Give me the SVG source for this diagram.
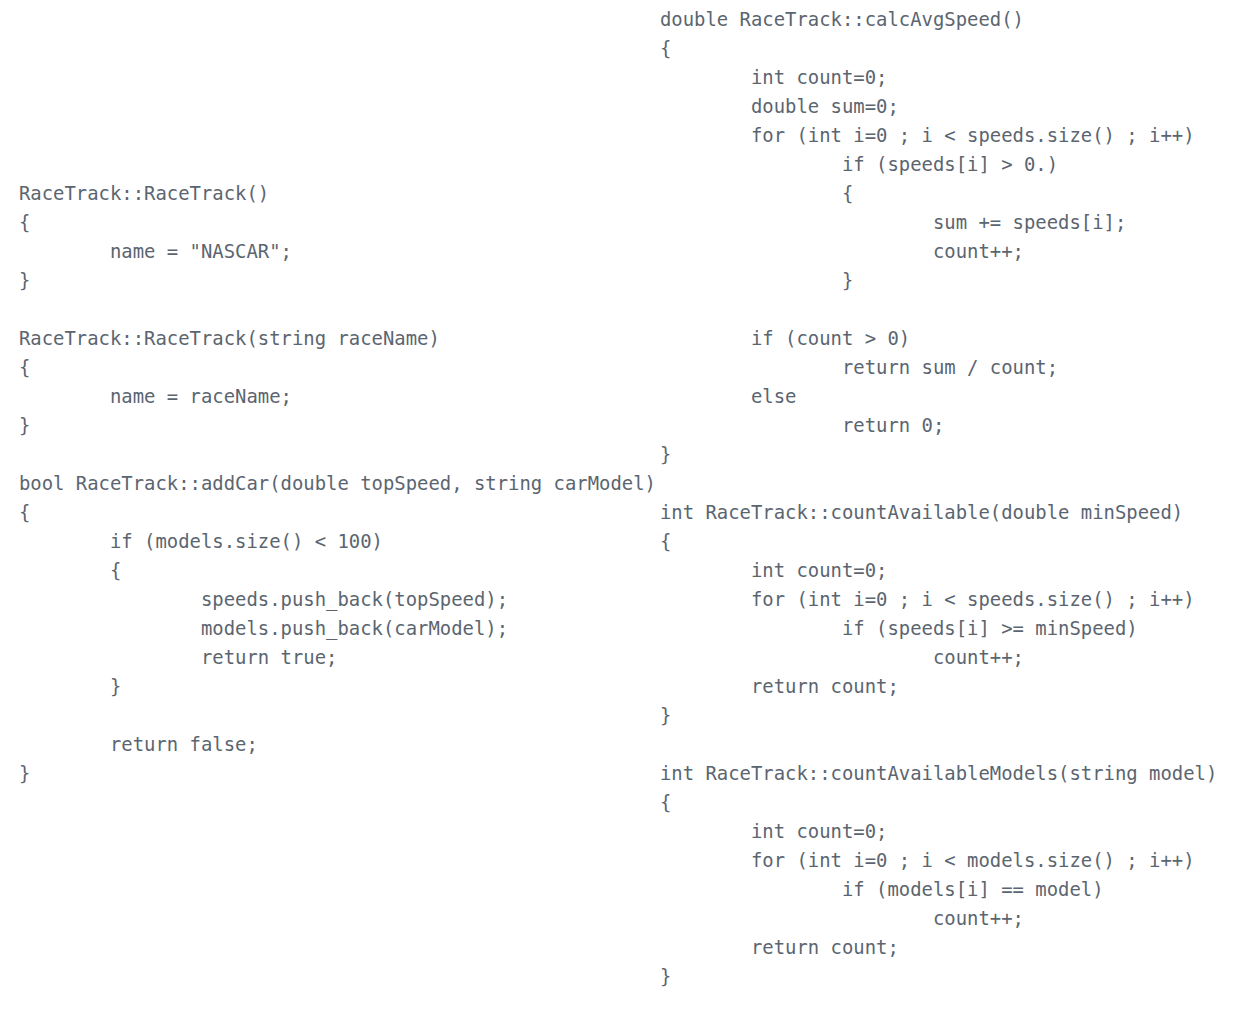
<svg xmlns="http://www.w3.org/2000/svg" width="1241" height="1009" viewBox="0 0 1241 1009">
<style>text{font-family:"DejaVu Sans Mono","Liberation Mono",monospace;font-size:18.9px;fill:#5b6570;white-space:pre}</style>
<rect width="1241" height="1009" fill="#fff"/>
<g id="left">
<text x="19" y="200">RaceTrack::RaceTrack()</text>
<text x="19" y="229">{</text>
<text x="110" y="258">name = "NASCAR";</text>
<text x="19" y="287">}</text>
<text x="19" y="345">RaceTrack::RaceTrack(string raceName)</text>
<text x="19" y="374">{</text>
<text x="110" y="403">name = raceName;</text>
<text x="19" y="432">}</text>
<text x="19" y="490">bool RaceTrack::addCar(double topSpeed, string carModel)</text>
<text x="19" y="519">{</text>
<text x="110" y="548">if (models.size() &lt; 100)</text>
<text x="110" y="577">{</text>
<text x="201" y="606">speeds.push_back(topSpeed);</text>
<text x="201" y="635">models.push_back(carModel);</text>
<text x="201" y="664">return true;</text>
<text x="110" y="693">}</text>
<text x="110" y="751">return false;</text>
<text x="19" y="780">}</text>
</g>
<g id="right">
<text x="660" y="26">double RaceTrack::calcAvgSpeed()</text>
<text x="660" y="55">{</text>
<text x="751" y="84">int count=0;</text>
<text x="751" y="113">double sum=0;</text>
<text x="751" y="142">for (int i=0 ; i &lt; speeds.size() ; i++)</text>
<text x="842" y="171">if (speeds[i] &gt; 0.)</text>
<text x="842" y="200">{</text>
<text x="933" y="229">sum += speeds[i];</text>
<text x="933" y="258">count++;</text>
<text x="842" y="287">}</text>
<text x="751" y="345">if (count &gt; 0)</text>
<text x="842" y="374">return sum / count;</text>
<text x="751" y="403">else</text>
<text x="842" y="432">return 0;</text>
<text x="660" y="461">}</text>
<text x="660" y="519">int RaceTrack::countAvailable(double minSpeed)</text>
<text x="660" y="548">{</text>
<text x="751" y="577">int count=0;</text>
<text x="751" y="606">for (int i=0 ; i &lt; speeds.size() ; i++)</text>
<text x="842" y="635">if (speeds[i] &gt;= minSpeed)</text>
<text x="933" y="664">count++;</text>
<text x="751" y="693">return count;</text>
<text x="660" y="722">}</text>
<text x="660" y="780">int RaceTrack::countAvailableModels(string model)</text>
<text x="660" y="809">{</text>
<text x="751" y="838">int count=0;</text>
<text x="751" y="867">for (int i=0 ; i &lt; models.size() ; i++)</text>
<text x="842" y="896">if (models[i] == model)</text>
<text x="933" y="925">count++;</text>
<text x="751" y="954">return count;</text>
<text x="660" y="983">}</text>
</g>
</svg>
